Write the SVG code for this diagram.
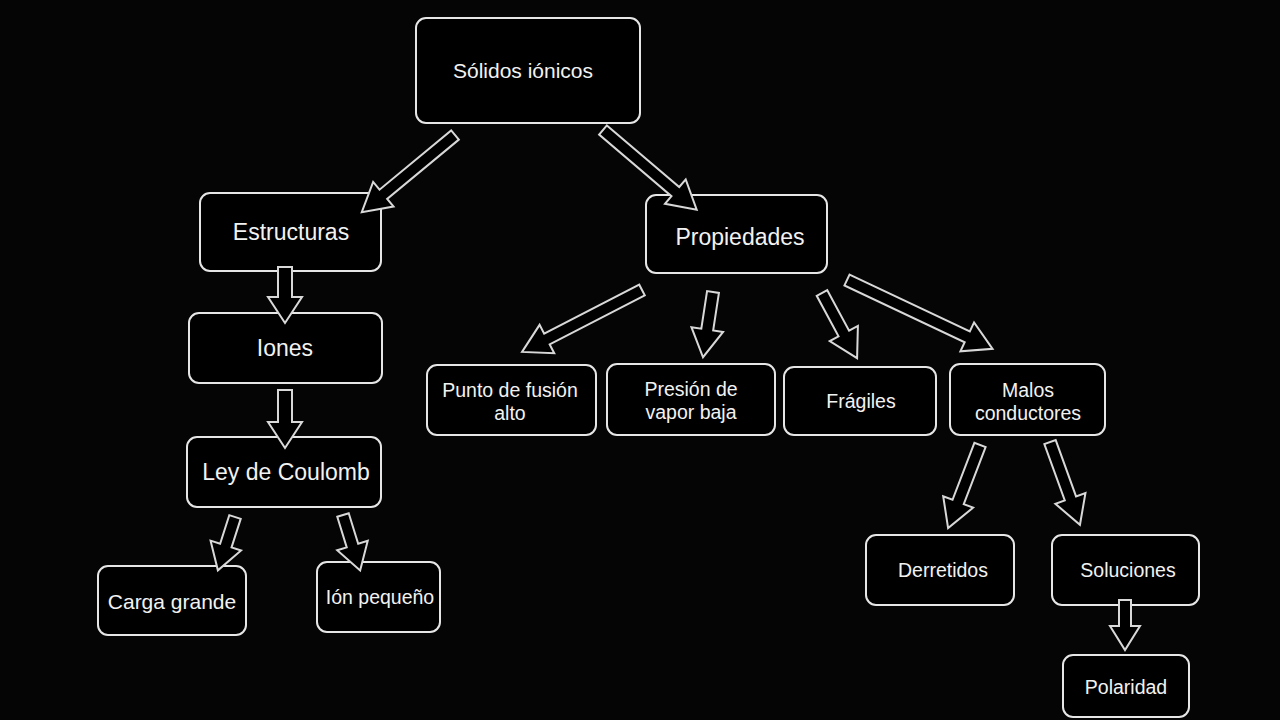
<svg xmlns="http://www.w3.org/2000/svg" width="1280" height="720" viewBox="0 0 1280 720">
<style>
.n rect{fill:#000;stroke:#e6e6e6;stroke-width:2}
text{fill:#f2f2f2;font-family:"Liberation Sans",Arial,sans-serif;font-size:19.5px;text-anchor:middle}
.b{font-size:23px}
.a polygon{fill:#000;stroke:#d8d8d8;stroke-width:2;stroke-linejoin:miter}
</style>
<rect width="1280" height="720" fill="#050505"/>
<g id="n1" class="n"><rect x="416" y="18" width="224" height="105" rx="10"/><text x="523" y="78" style="font-size:21px">Sólidos iónicos</text></g>
<g id="n2" class="n"><rect x="200" y="193" width="181" height="78" rx="10"/><text x="291" y="240" class="b">Estructuras</text></g>
<g id="n3" class="n"><rect x="646" y="195" width="181" height="78" rx="10"/><text x="740" y="245" class="b">Propiedades</text></g>
<g id="n4" class="n"><rect x="189" y="313" width="193" height="70" rx="10"/><text x="285" y="356" class="b">Iones</text></g>
<g id="n5" class="n"><rect x="187" y="437" width="194" height="70" rx="10"/><text x="286" y="480" class="b">Ley de Coulomb</text></g>
<g id="n6" class="n"><rect x="98" y="566" width="148" height="69" rx="10"/><text x="172" y="609" style="font-size:21px">Carga grande</text></g>
<g id="n7" class="n"><rect x="317" y="562" width="123" height="70" rx="10"/><text x="380" y="604">Ión pequeño</text></g>
<g id="n8" class="n"><rect x="427" y="365" width="169" height="70" rx="10"/><text x="510" y="397">Punto de fusión</text><text x="510" y="420">alto</text></g>
<g id="n9" class="n"><rect x="607" y="364" width="168" height="71" rx="10"/><text x="691" y="396">Presión de</text><text x="691" y="419">vapor baja</text></g>
<g id="n10" class="n"><rect x="784" y="367" width="152" height="68" rx="10"/><text x="861" y="408">Frágiles</text></g>
<g id="n11" class="n"><rect x="950" y="364" width="155" height="71" rx="10"/><text x="1028" y="397">Malos</text><text x="1028" y="420">conductores</text></g>
<g id="n12" class="n"><rect x="866" y="535" width="148" height="70" rx="10"/><text x="943" y="577">Derretidos</text></g>
<g id="n13" class="n"><rect x="1052" y="535" width="147" height="70" rx="10"/><text x="1128" y="577">Soluciones</text></g>
<g id="n14" class="n"><rect x="1063" y="655" width="126" height="62" rx="10"/><text x="1126" y="694">Polaridad</text></g>
<g id="connectors" class="a">
<polygon transform="translate(455,135) rotate(140.4)" points="0,-6 93,-6 93,-16 121,0 93,16 93,6 0,6"/>
<polygon transform="translate(603,130) rotate(40.4)" points="0,-6 95,-6 95,-16 123,0 95,16 95,6 0,6"/>
<polygon transform="translate(285,267) rotate(90)" points="0,-7 30,-7 30,-17 56,0 30,17 30,7 0,7"/>
<polygon transform="translate(285,390) rotate(90)" points="0,-7 32,-7 32,-17 58,0 32,17 32,7 0,7"/>
<polygon transform="translate(235,517) rotate(107.8)" points="0,-6 30,-6 30,-16 56,0 30,16 30,6 0,6"/>
<polygon transform="translate(343,515) rotate(72.8)" points="0,-6 32,-6 32,-16 58,0 32,16 32,6 0,6"/>
<polygon transform="translate(642,290) rotate(152.7)" points="0,-6 107,-6 107,-16 135,0 107,16 107,6 0,6"/>
<polygon transform="translate(713,292) rotate(98.7)" points="0,-6 38,-6 38,-16 66,0 38,16 38,6 0,6"/>
<polygon transform="translate(822,293) rotate(61.7)" points="0,-6 46,-6 46,-16 74,0 46,16 46,6 0,6"/>
<polygon transform="translate(847,280) rotate(25.3)" points="0,-6 133,-6 133,-16 161,0 133,16 133,6 0,6"/>
<polygon transform="translate(980,445) rotate(111)" points="0,-6 61,-6 61,-16 89,0 61,16 61,6 0,6"/>
<polygon transform="translate(1050,442) rotate(70.1)" points="0,-6 60,-6 60,-16 88,0 60,16 60,6 0,6"/>
<polygon transform="translate(1125,600) rotate(90)" points="0,-6 26,-6 26,-15 50,0 26,15 26,6 0,6"/>
</g>
</svg>
